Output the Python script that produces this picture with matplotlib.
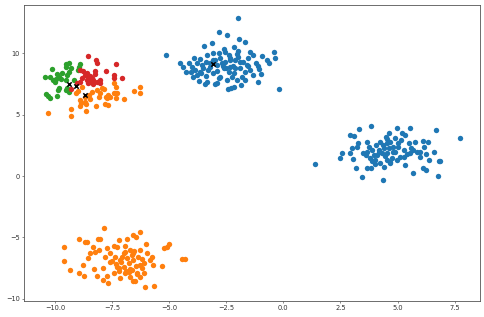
import matplotlib
matplotlib.use("Agg")
import matplotlib.pyplot as plt

# cluster 0 (blue) - two blobs
blue_x = [-5.15, -2.0, -0.2, -0.4, -0.37, -2.8, -2.46, -3.47, -3.13, -1.94, -1.67, -2.18, -1.48, -0.94,
          -0.72, -0.64, -1.09, -1.06, -1.35, -1.13, -1.84, -2.92, -3.35, -3.69, -3.43, -2.43, -2.3, -2.18,
          -4.52, -4.4, -4.27, -4.13, -4.04, -3.94, -3.79, -3.65, -3.35, -3.06, -2.77, -2.55, -2.33, -2.11,
          -1.97, -1.75, -1.53, -1.31, -2.18, -2.48, -2.77, -3.06, -3.28, -3.5, -3.65, -3.79, -3.21, -2.92,
          -2.62, -2.4, -2.26, -2.04, -1.67, -1.45, -1.6, -1.9, -2.11, -2.33, -2.84, -2.99, -3.38, -3.57,
          -3.87, -4.01, -2.7, -2.5, -2.2, -1.9, -3.4, -2.9, -2.0, -2.6, -1.2, -1.0, -3.9, -3.2, -2.4,
          -1.7, -2.8, -3.0, -2.65, -2.35, -1.8, -3.1, -3.6, -2.55, -1.55, -2.05,
          1.38, 7.72, 6.68, 3.84, 3.32, 2.93, 3.1, 5.56, 4.97, 5.19, 5.31, 4.61, 4.49, 4.24, 4.07, 3.66,
          3.29, 3.22, 3.0, 2.93, 2.56, 2.49, 3.04, 3.19, 3.44, 4.36, 3.66, 3.84, 4.39, 4.68, 5.34, 5.7,
          6.11, 6.24, 6.77, 6.8, 6.58, 6.33, 6.11, 5.78, 6.14, 6.26, 5.85, 5.56, 5.27, 4.97, 4.75, 4.53,
          4.39, 4.17, 3.95, 3.8, 3.66, 3.51, 4.02, 4.24, 4.53, 4.82, 5.04, 5.27, 5.49, 5.7, 4.9, 4.68,
          4.53, 5.12, 5.99, 6.4, 3.73, 3.88, 4.1, 4.31, 4.61, 4.45, 4.8, 5.0, 4.2, 3.9, 5.4, 5.15, 4.65,
          4.35, 4.0, 5.6, 6.0, 4.55, 4.9, 3.6, 6.85]
blue_y = [9.84, 12.85, 7.12, 10.08, 9.62, 11.74, 11.47, 10.57, 10.87, 11.17, 10.9, 10.54, 10.08, 9.81,
          9.46, 9.18, 8.97, 8.72, 8.21, 7.66, 7.42, 7.58, 7.64, 7.77, 7.5, 7.07, 7.15, 7.23,
          9.18, 8.91, 8.5, 9.18, 8.5, 8.1, 9.18, 9.51, 9.86, 10.0, 9.59, 9.32, 8.91, 9.46,
          9.73, 9.32, 9.59, 9.86, 8.37, 7.83, 8.1, 8.37, 8.64, 8.78, 8.5, 8.23, 9.18, 9.05,
          8.78, 8.5, 8.1, 7.83, 7.83, 8.64, 9.05, 8.78, 8.78, 9.46, 10.0, 9.46, 9.32, 9.05,
          8.64, 8.91, 9.2, 8.8, 9.0, 9.3, 8.2, 8.6, 10.2, 10.4, 9.2, 8.3, 9.6, 8.9, 9.9,
          8.5, 8.0, 7.5, 8.95, 9.65, 8.1, 9.45, 8.4, 10.15, 8.95, 9.95,
          0.98, 3.07, 3.75, 4.08, 3.8, 3.34, 3.26, 3.94, 3.89, 3.53, 3.34, 3.48, 3.15, 2.8, 2.53, 2.8,
          2.66, 2.39, 2.26, 1.9, 1.9, 1.44, 1.36, 0.63, -0.05, -0.33, 0.63, 0.63, 0.76, 1.03, 0.9, 0.27,
          0.63, 0.49, 0.03, 1.2, 1.98, 2.8, 2.88, 2.8, 2.39, 1.77, 1.98, 1.85, 1.58, 1.3, 1.44, 1.85,
          2.26, 1.98, 1.71, 1.44, 1.98, 1.85, 1.3, 1.03, 1.3, 2.39, 2.66, 2.12, 2.66, 2.12, 1.98, 2.8,
          2.99, 1.58, 1.58, 1.3, 2.39, 2.12, 1.71, 1.85, 2.26, 1.6, 2.0, 2.4, 2.1, 1.2, 1.8, 2.95, 1.15,
          2.55, 0.95, 2.3, 2.0, 2.7, 3.1, 1.7, 1.2]

# cluster 1 (orange) - bottom blob + upper-left group
orange_x = [-7.84, -9.59, -9.6, -9.35, -8.97, -8.68, -8.58, -8.14, -8.02, -8.96, -8.73, -8.76, -8.54,
            -8.17, -7.91, -7.66, -7.15, -6.6, -6.52, -6.08, -5.66, -5.3, -5.69, -5.98, -6.01, -6.26,
            -6.57, -6.46, -6.86, -7.22, -7.27, -6.92, -7.44, -7.73, -8.08, -8.27, -8.46, -8.35, -7.88,
            -8.3, -7.73, -7.44, -7.29, -7.58, -7.8, -7.58, -7.37, -7.15, -7.0, -6.78, -6.63, -6.41,
            -6.19, -6.12, -6.35, -6.57, -6.71, -6.28, -5.77, -5.84, -7.0, -7.07, -6.93, -6.12, -6.28,
            -5.11, -5.02, -5.21, -4.46, -4.33, -7.18, -6.71, -6.6, -6.85, -6.45, -7.1, -6.7, -6.3,
            -7.5, -6.95, -6.55, -6.75, -7.35, -6.2, -6.9, -6.65, -7.2, -6.4,
            -10.32, -9.29, -9.3, -9.07, -9.01, -8.82, -8.89, -8.86, -8.89, -8.63, -8.63, -8.2, -8.67,
            -8.53, -8.39, -8.17, -7.95, -7.85, -8.03, -8.08, -7.76, -7.66, -7.73, -7.58, -7.8, -7.66,
            -7.44, -7.37, -7.29, -7.41, -7.32, -7.31, -7.0, -6.56, -6.3, -6.3, -8.46, -8.67]
orange_y = [-4.27, -5.82, -6.9, -7.66, -5.16, -5.35, -5.35, -5.14, -5.14, -7.88, -8.15, -7.26, -6.71,
            -8.15, -8.48, -8.7, -8.34, -8.53, -8.56, -9.05, -8.97, -7.34, -7.28, -6.3, -5.52, -4.57,
            -4.81, -5.0, -5.16, -5.22, -5.76, -5.71, -5.71, -5.9, -6.03, -6.17, -6.3, -5.76, -7.53,
            -7.61, -8.16, -7.93, -7.39, -6.98, -6.58, -6.3, -6.58, -6.85, -7.39, -7.12, -7.66, -7.93,
            -7.53, -7.12, -6.58, -6.3, -6.03, -6.03, -6.58, -6.85, -6.3, -6.58, -7.93, -7.93, -8.2,
            -5.76, -5.57, -5.87, -6.74, -6.79, -7.72, -8.2, -6.85, -6.7, -7.3, -7.0, -7.6, -7.25,
            -6.9, -6.2, -6.1, -7.85, -7.15, -6.75, -7.75, -6.45, -7.5, -8.0,
            5.14, 5.43, 4.89, 6.74, 6.93, 7.28, 6.2, 5.92, 5.71, 5.87, 5.3, 5.73, 6.47,
            6.6, 6.88, 7.01, 7.15, 7.07, 6.74, 6.47, 6.47, 6.6, 6.33, 6.47, 5.87, 5.79,
            6.74, 6.79, 6.79, 7.55, 7.28, 6.33, 6.25, 6.96, 7.23, 6.79, 6.25, 6.06]

# cluster 2 (green)
green_x = [-10.44, -10.22, -10.12, -10.0, -9.9, -9.81, -9.73, -10.39, -10.29, -10.22, -9.9, -9.81,
           -9.85, -9.54, -9.39, -9.5, -9.32, -9.39, -9.47, -9.54, -9.47, -9.54, -9.39, -8.89, -8.93,
           -8.99, -9.18, -9.68, -9.95, -10.07]
green_y = [8.07, 8.07, 8.75, 7.69, 8.32, 8.1, 7.91, 6.66, 6.55, 6.39, 6.55, 7.2,
           7.01, 9.16, 9.18, 8.91, 8.78, 8.51, 8.23, 7.83, 7.15, 7.01, 6.88, 9.13, 8.91,
           8.64, 7.83, 8.37, 7.94, 7.83]

# cluster 3 (red)
red_x = [-8.54, -8.19, -8.17, -7.31, -7.78, -8.23, -8.26, -7.4, -7.44, -7.05, -8.89, -8.77, -8.67,
         -8.82, -8.89, -9.04, -9.29, -8.6, -8.45, -8.32, -8.17, -8.03, -8.03, -8.39, -8.54, -8.54,
         -8.32, -8.6, -8.49]
red_y = [9.81, 9.46, 9.24, 9.13, 8.53, 8.59, 8.32, 8.23, 7.96, 7.96, 8.64, 8.56, 8.23,
         7.96, 7.69, 7.55, 7.07, 7.83, 7.69, 7.83, 7.69, 7.83, 7.55, 8.02, 7.96, 7.55,
         7.5, 8.4, 8.15]

# centroid markers
cent_x = [-3.06, -9.41, -9.07, -8.71]
cent_y = [9.16, 7.47, 7.34, 6.63]

fig = plt.figure(figsize=(4.85, 3.17), dpi=100)
ax = fig.add_axes([0.0495, 0.0505, 0.9405, 0.9345])

for xs, ys, col in [(blue_x, blue_y, "#1f77b4"), (orange_x, orange_y, "#ff7f0e"),
                    (green_x, green_y, "#2ca02c"), (red_x, red_y, "#d62728")]:
    ax.scatter(xs, ys, s=15, c=col, linewidths=0)
ax.scatter(cent_x, cent_y, s=10, c="black", marker="x", linewidths=1.1)

ax.set_xlim(-11.36, 8.62)
ax.set_ylim(-10.19, 13.97)
ax.set_xticks([-10.0, -7.5, -5.0, -2.5, 0.0, 2.5, 5.0, 7.5])
ax.set_xticklabels(["\u221210.0", "\u22127.5", "\u22125.0", "\u22122.5", "0.0", "2.5", "5.0", "7.5"])
ax.set_yticks([-10, -5, 0, 5, 10])
ax.tick_params(labelsize=4.8, length=1.6, width=0.4, pad=1.2, colors="#333333")
for sp in ax.spines.values():
    sp.set_linewidth(0.6)
    sp.set_color("#555555")

fig.savefig("out.png", dpi=100)
